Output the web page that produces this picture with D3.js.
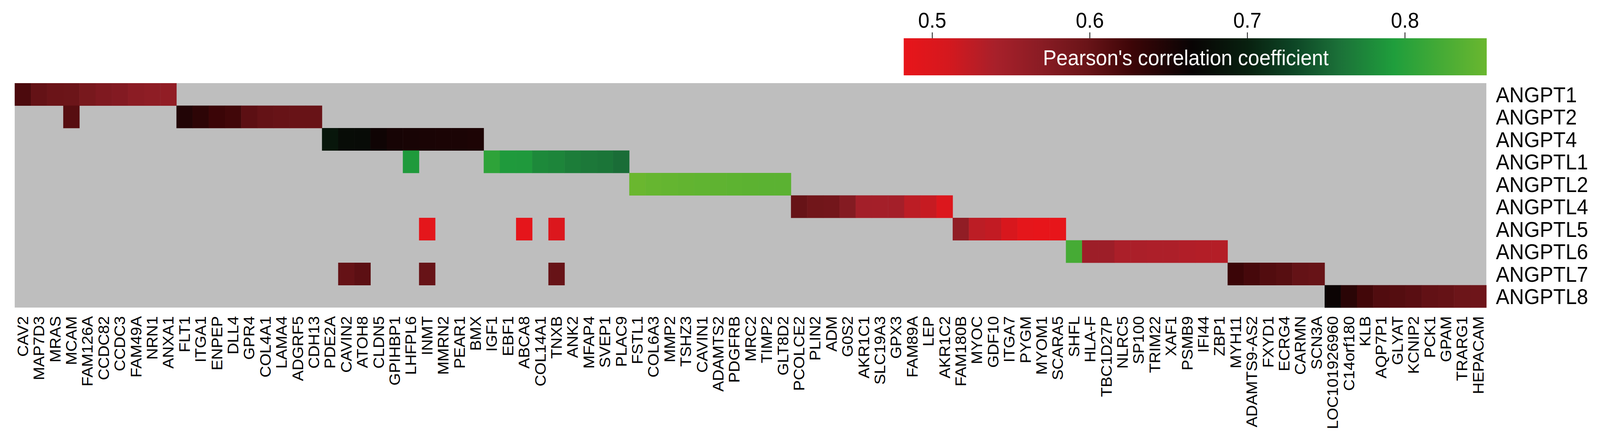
<!DOCTYPE html>
<html>
<head>
<meta charset="utf-8">
<script src="https://cdn.jsdelivr.net/npm/d3@7"></script>
<style>
  html, body { margin: 0; padding: 0; background: #ffffff; overflow: hidden; }
  #chart { width: 100vw; height: 100vh; }
  svg { display: block; }
  svg text { font-family: "Liberation Sans", Arial, sans-serif; fill: #000000; }
</style>
</head>
<body>
<div id="chart"></div>
<script>
// ---------------------------------------------------------------------------//
// Data
// ---------------------------------------------------------------------------//
const families = [
  "ANGPT1", "ANGPT2", "ANGPT4", "ANGPTL1", "ANGPTL2",
  "ANGPTL4", "ANGPTL5", "ANGPTL6", "ANGPTL7", "ANGPTL8",
];

const genes = [
  "CAV2", "MAP7D3", "MRAS", "MCAM", "FAM126A", "CCDC82", "CCDC3", "FAM49A", "NRN1", "ANXA1",
  "FLT1", "ITGA1", "ENPEP", "DLL4", "GPR4", "COL4A1", "LAMA4", "ADGRF5", "CDH13",
  "PDE2A", "CAVIN2", "ATOH8", "CLDN5", "GPIHBP1", "LHFPL6", "INMT", "MMRN2", "PEAR1", "BMX",
  "IGF1", "EBF1", "ABCA8", "COL14A1", "TNXB", "ANK2", "MFAP4", "SVEP1", "PLAC9",
  "FSTL1", "COL6A3", "MMP2", "TSHZ3", "CAVIN1", "ADAMTS2", "PDGFRB", "MRC2", "TIMP2", "GLT8D2",
  "PCOLCE2", "PLIN2", "ADM", "G0S2", "AKR1C1", "SLC19A3", "GPX3", "FAM89A", "LEP", "AKR1C2",
  "FAM180B", "MYOC", "GDF10", "ITGA7", "PYGM", "MYOM1", "SCARA5",
  "SHFL", "HLA-F", "TBC1D27P", "NLRC5", "SP100", "TRIM22", "XAF1", "PSMB9", "IFI44", "ZBP1",
  "MYH11", "ADAMTS9-AS2", "FXYD1", "ECRG4", "CARMN", "SCN3A",
  "LOC101926960", "C14orf180", "KLB", "AQP7P1", "GLYAT", "KCNIP2", "PCK1", "GPAM", "TRARG1", "HEPACAM",
];

// Pearson's r per family: [gene, value]
const rANGPT1 = [["CAV2", 0.617], ["MAP7D3", 0.602], ["MRAS", 0.597], ["MCAM", 0.596], ["FAM126A", 0.585],
  ["CCDC82", 0.579], ["CCDC3", 0.575], ["FAM49A", 0.568], ["NRN1", 0.565], ["ANXA1", 0.562]];
const rANGPT2 = [["MCAM", 0.61], ["FLT1", 0.646], ["ITGA1", 0.638], ["ENPEP", 0.628], ["DLL4", 0.624],
  ["GPR4", 0.607], ["COL4A1", 0.602], ["LAMA4", 0.6], ["ADGRF5", 0.599], ["CDH13", 0.599]];
const rANGPT4 = [["PDE2A", 0.688], ["CAVIN2", 0.675], ["ATOH8", 0.674], ["CLDN5", 0.66], ["GPIHBP1", 0.654],
  ["LHFPL6", 0.653], ["INMT", 0.652], ["MMRN2", 0.651], ["PEAR1", 0.651], ["BMX", 0.65]];
const rANGPTL1 = [["LHFPL6", 0.79], ["IGF1", 0.805], ["EBF1", 0.79], ["ABCA8", 0.789], ["COL14A1", 0.777],
  ["TNXB", 0.774], ["ANK2", 0.768], ["MFAP4", 0.764], ["SVEP1", 0.762], ["PLAC9", 0.756]];
const rANGPTL2 = [["FSTL1", 0.852], ["COL6A3", 0.849], ["MMP2", 0.847], ["TSHZ3", 0.846], ["CAVIN1", 0.844],
  ["ADAMTS2", 0.843], ["PDGFRB", 0.842], ["MRC2", 0.841], ["TIMP2", 0.84], ["GLT8D2", 0.84]];
const rANGPTL4 = [["PCOLCE2", 0.6], ["PLIN2", 0.592], ["ADM", 0.59], ["G0S2", 0.574], ["AKR1C1", 0.545],
  ["SLC19A3", 0.544], ["GPX3", 0.544], ["FAM89A", 0.527], ["LEP", 0.52], ["AKR1C2", 0.5]];
const rANGPTL5 = [["INMT", 0.488], ["ABCA8", 0.486], ["TNXB", 0.5], ["FAM180B", 0.562], ["MYOC", 0.527],
  ["GDF10", 0.523], ["ITGA7", 0.505], ["PYGM", 0.487], ["MYOM1", 0.483], ["SCARA5", 0.483]];
const rANGPTL6 = [["SHFL", 0.824], ["HLA-F", 0.551], ["TBC1D27P", 0.551], ["NLRC5", 0.538], ["SP100", 0.538],
  ["TRIM22", 0.537], ["XAF1", 0.537], ["PSMB9", 0.534], ["IFI44", 0.533], ["ZBP1", 0.532]];
const rANGPTL7 = [["CAVIN2", 0.601], ["ATOH8", 0.607], ["INMT", 0.6], ["TNXB", 0.6], ["MYH11", 0.628],
  ["ADAMTS9-AS2", 0.621], ["FXYD1", 0.613], ["ECRG4", 0.61], ["CARMN", 0.602], ["SCN3A", 0.6]];
const rANGPTL8 = [["LOC101926960", 0.662], ["C14orf180", 0.64], ["KLB", 0.623], ["AQP7P1", 0.614], ["GLYAT", 0.612],
  ["KCNIP2", 0.609], ["PCK1", 0.603], ["GPAM", 0.601], ["TRARG1", 0.596], ["HEPACAM", 0.594]];

const familyValues = [rANGPT1, rANGPT2, rANGPT4, rANGPTL1, rANGPTL2,
  rANGPTL4, rANGPTL5, rANGPTL6, rANGPTL7, rANGPTL8];

// Colour ramp of the legend
const colorStops = [0.482, 0.51, 0.54, 0.569, 0.598, 0.627, 0.665, 0.70, 0.729, 0.758, 0.793, 0.852];
const colorValues = ["#e8151a", "#d5181e", "#a8202a", "#8a1c24", "#6a1418", "#3c0507",
  "#080404", "#08200f", "#0d4525", "#1b7038", "#1f9e3c", "#6ab72f"];
const legendTicks = [0.5, 0.6, 0.7, 0.8];

// ---------------------------------------------------------------------------//
// Layout (in a fixed 4350 x 1135 coordinate system, stretched to the window)
// ---------------------------------------------------------------------------//
const width = 4350;
const height = 1135;
const heat = { left: 40, right: 4041, top: 213, bottom: 788 };
const legendBox = { left: 2457, right: 4042, top: 98, bottom: 193 };

const cells = [];
familyValues.forEach((list, i) => {
  list.forEach(([gene, value]) => cells.push({ family: families[i], gene, value }));
});

const svg = d3.select("#chart")
  .append("svg")
  .attr("width", "100%")
  .attr("height", "100%")
  .attr("viewBox", `0 0 ${width} ${height}`)
  .attr("preserveAspectRatio", "none");

const x = d3.scaleBand().domain(genes).range([heat.left, heat.right]);
const y = d3.scaleBand().domain(families).range([heat.top, heat.bottom]);
const color = d3.scaleLinear().domain(colorStops).range(colorValues).clamp(true);

// ---------------------------------------------------------------------------//
// Heatmap
// ---------------------------------------------------------------------------//
svg.append("rect")
  .attr("x", heat.left)
  .attr("y", heat.top)
  .attr("width", heat.right - heat.left)
  .attr("height", heat.bottom - heat.top)
  .attr("fill", "#bebebe");

svg.append("g")
  .selectAll("rect")
  .data(cells)
  .join("rect")
  .attr("x", (d) => x(d.gene))
  .attr("y", (d) => y(d.family))
  .attr("width", x.bandwidth() + 0.5)
  .attr("height", y.bandwidth() + 0.5)
  .attr("fill", (d) => color(d.value));

// Gene labels (bottom, vertical)
svg.append("g")
  .selectAll("text")
  .data(genes)
  .join("text")
  .attr("transform", (d) => `translate(${x(d) + x.bandwidth() / 2},${heat.bottom + 22}) rotate(-90)`)
  .attr("text-anchor", "end")
  .attr("dy", "0.35em")
  .attr("font-size", 41)
  .text((d) => d);

// Family labels (right)
svg.append("g")
  .selectAll("text")
  .data(families)
  .join("text")
  .attr("x", heat.right + 26)
  .attr("y", (d) => y(d) + y.bandwidth() / 2)
  .attr("dy", "0.36em")
  .attr("font-size", 55)
  .text((d) => d);

// ---------------------------------------------------------------------------//
// Legend
// ---------------------------------------------------------------------------//
const legendX = d3.scaleLinear()
  .domain([colorStops[0], colorStops[colorStops.length - 1]])
  .range([legendBox.left, legendBox.right]);

const grad = svg.append("defs")
  .append("linearGradient")
  .attr("id", "legend-gradient")
  .attr("x1", "0%").attr("x2", "100%")
  .attr("y1", "0%").attr("y2", "0%");

grad.selectAll("stop")
  .data(colorStops)
  .join("stop")
  .attr("offset", (d) => `${((legendX(d) - legendBox.left) / (legendBox.right - legendBox.left)) * 100}%`)
  .attr("stop-color", (d, i) => colorValues[i]);

svg.append("rect")
  .attr("x", legendBox.left)
  .attr("y", legendBox.top)
  .attr("width", legendBox.right - legendBox.left)
  .attr("height", legendBox.bottom - legendBox.top)
  .attr("fill", "url(#legend-gradient)");

const legendAxis = svg.append("g")
  .attr("transform", `translate(0,${legendBox.top})`)
  .call(d3.axisTop(legendX).tickValues(legendTicks).tickSize(15).tickPadding(12).tickFormat(d3.format(".1f")));

legendAxis.select(".domain").remove();
legendAxis.selectAll(".tick line").attr("stroke", "#000").attr("stroke-width", 2);
legendAxis.selectAll(".tick text")
  .attr("font-size", 55)
  .attr("font-family", "'Liberation Sans', Arial, sans-serif")
  .attr("fill", "#000");

svg.append("text")
  .attr("x", 3224)
  .attr("y", 167)
  .attr("text-anchor", "middle")
  .attr("font-size", 55)
  .style("fill", "#ffffff")
  .text("Pearson's correlation coefficient");
</script>
</body>
</html>
